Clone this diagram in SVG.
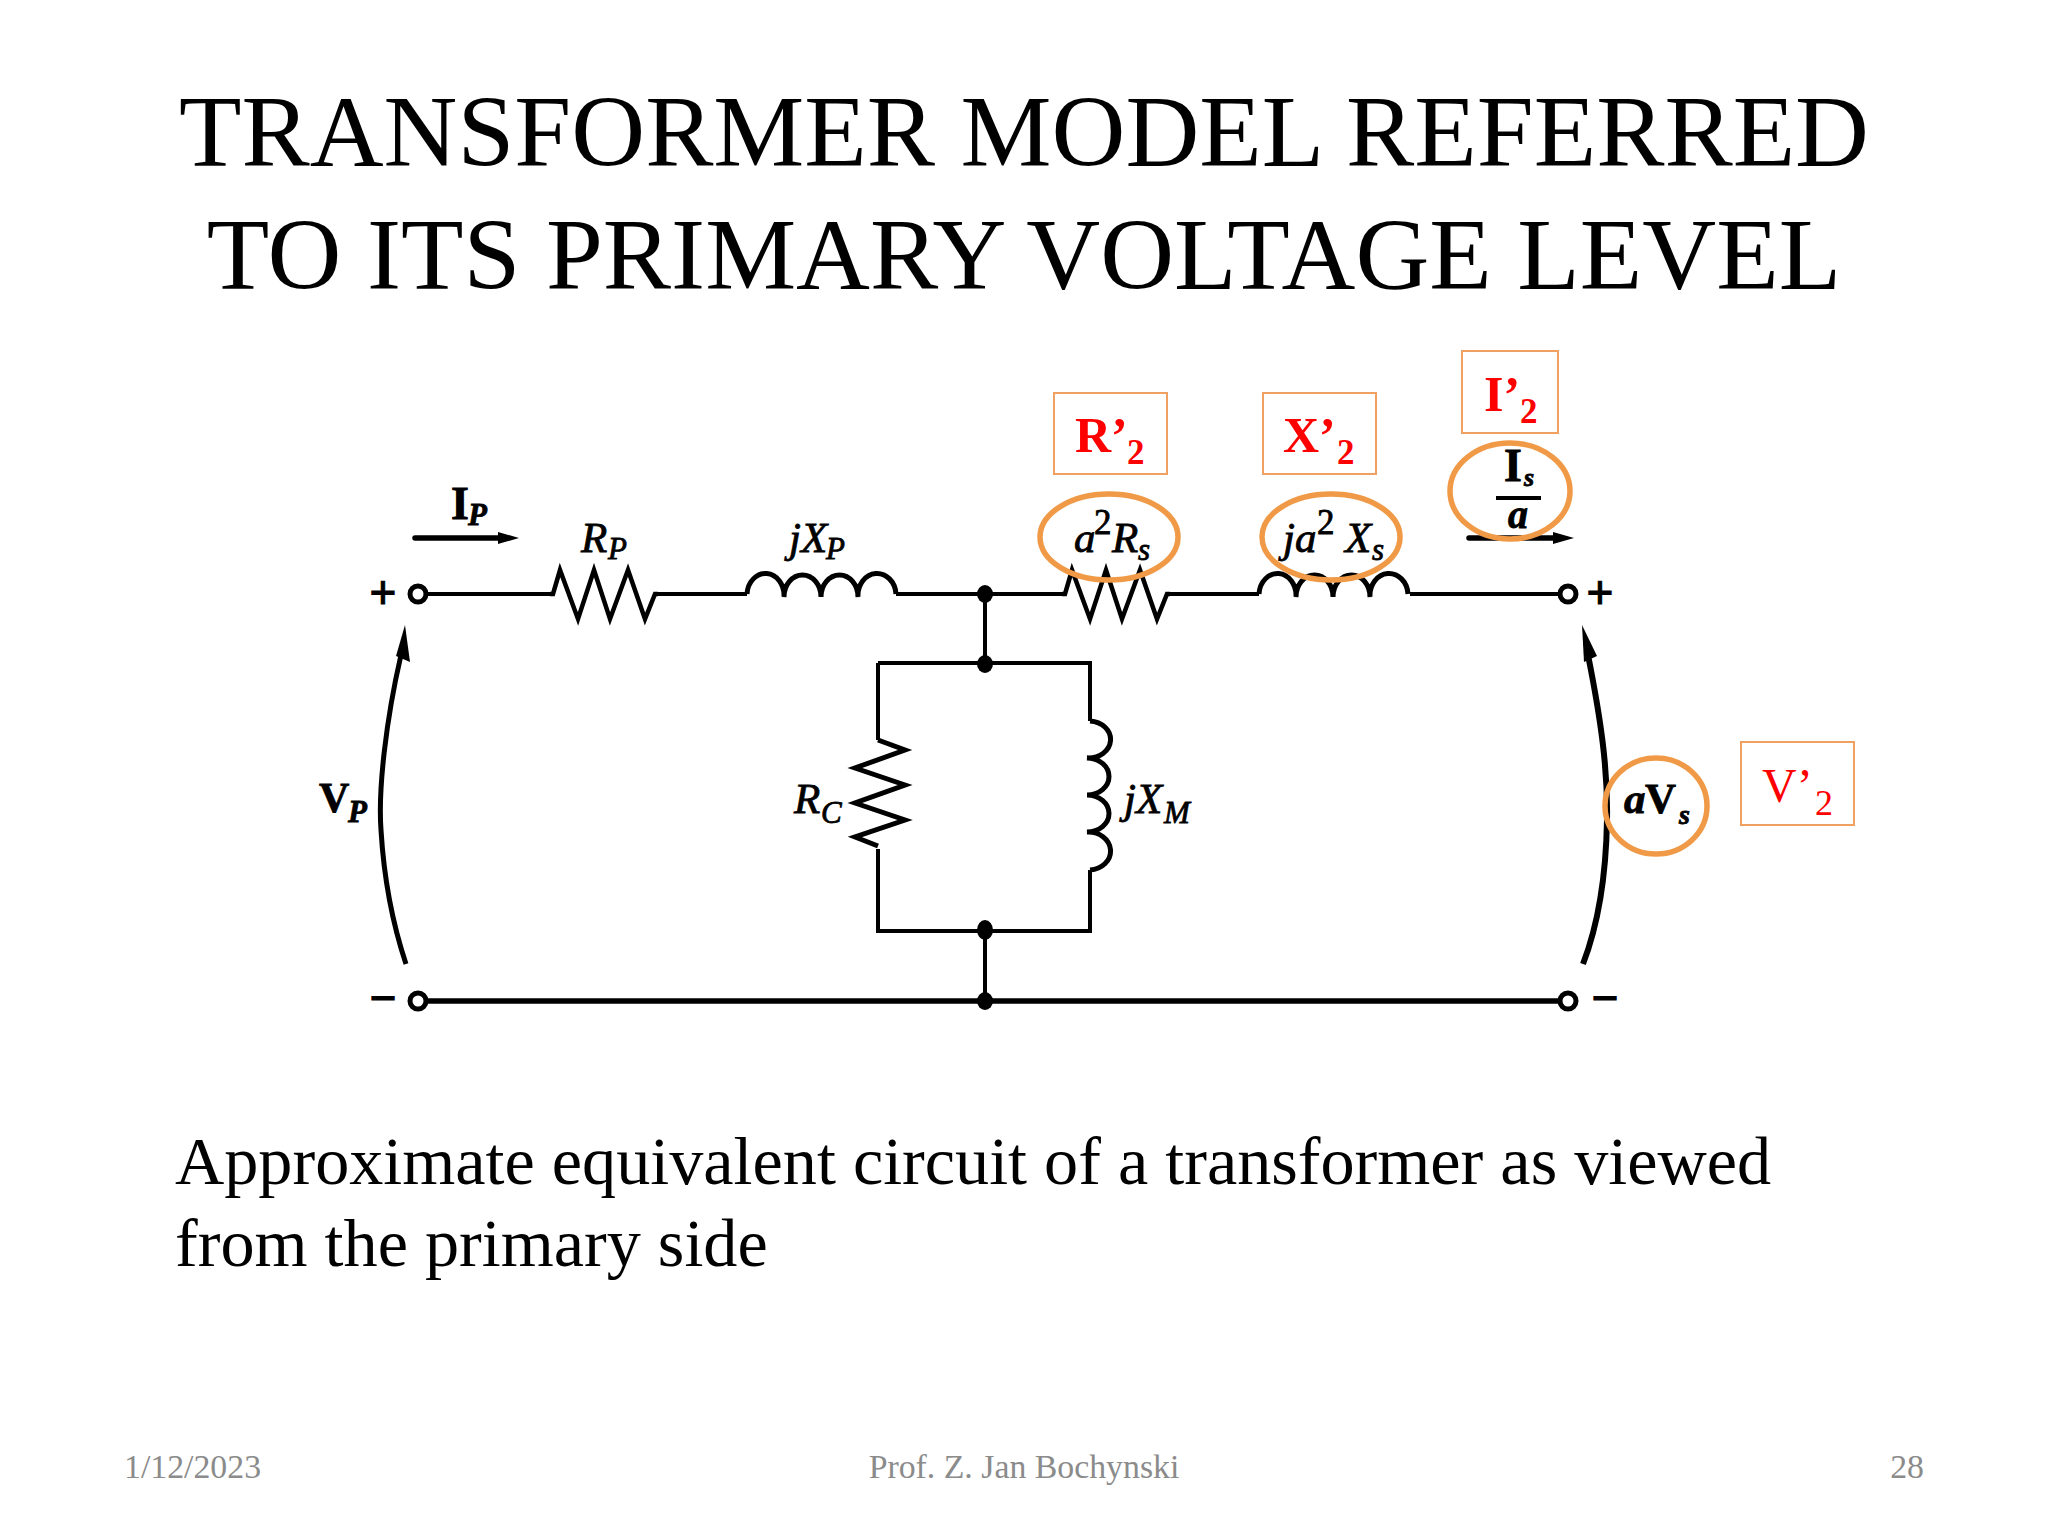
<svg xmlns="http://www.w3.org/2000/svg" xmlns:xlink="http://www.w3.org/1999/xlink" width="2048" height="1536" viewBox="0 0 2048 1536">
<style>
text{font-family:"Liberation Serif","Times New Roman",serif;fill:#000}
.title{font-size:102.3px;text-anchor:middle}
.body{font-size:68.2px}
.foot{font-size:33.8px;fill:#8b8b8b}
.w{fill:none;stroke:#000;stroke-width:4;stroke-linejoin:miter;stroke-linecap:butt}
.wb{fill:none;stroke:#000;stroke-width:5.5}
.dot{fill:#000}
.term{fill:#fff;stroke:#000;stroke-width:5}
.hi{fill:none;stroke:#f09a47;stroke-width:5.5}
.box{fill:#fff;stroke:#f0a060;stroke-width:2}
.lab{font-size:43px;font-style:italic;stroke:#000;stroke-width:.8}
.sub{font-size:31px;font-style:italic;stroke:#000;stroke-width:.8}
.bl{font-weight:bold;font-style:normal}
.rb{font-size:50px;font-weight:bold;fill:#f00}
.rbs{font-size:35px;font-weight:bold;fill:#f00}
.rr{font-size:48px;fill:#f00}
.rrs{font-size:36px;fill:#f00}
.sign{font-size:48px;font-weight:bold;text-anchor:middle;stroke:#000;stroke-width:1}
</style>
<defs>
<path id="res" class="w" d="M0 0H3L10 -24L28 25L44 -24L60 25L78 -24L95 25L105 0H108" style="stroke-width:4.5"/>
<path id="ind" class="w" style="stroke-width:5" d="M0 0A18.5 22 0 0 1 37 3A18.5 22 0 0 1 74 3A18.5 22 0 0 1 111 3A19 22 0 0 1 149 0"/>
</defs>
<g id="title">
<text class="title" x="1024" y="166">TRANSFORMER MODEL REFERRED</text>
<text class="title" x="1024" y="289">TO ITS PRIMARY VOLTAGE LEVEL</text>
</g>
<g id="connectors">
<path class="w" d="M426 594H552M657 594H747M896 594H1064M1166 594H1259M1410 594H1559"/>
<path class="w" d="M985 594V663M878 663H1090V721M1090 870V931H878V849M878 740V663M985 931V1000"/>
<path class="wb" d="M426 1001H1559"/>
<path d="M415 538H505" class="wb" stroke-linecap="round"/><path d="M498 532L519 538L498 544Z" class="dot"/>
<path d="M1469 538H1560" class="wb" stroke-linecap="round"/><path d="M1553 532L1574 538L1553 544Z" class="dot"/>
<path d="M401 655C386 720 378 790 381 830C384 880 393 925 406 964" fill="none" stroke="#000" stroke-width="5"/>
<path d="M405 625L410 662L396 656Z" class="dot"/>
<path d="M1588 655C1601 720 1608 770 1607 820C1606 880 1598 925 1583 964" fill="none" stroke="#000" stroke-width="6"/>
<path d="M1582 625L1597 656L1584 662Z" class="dot"/>
</g>
<g id="Rp"><use xlink:href="#res" href="#res" x="550" y="594"/><text class="lab" x="581" y="552">R</text><text class="sub" x="608" y="559">P</text></g>
<g id="jXp"><use xlink:href="#ind" href="#ind" x="747" y="594"/><text class="lab" x="789" y="552">jX</text><text class="sub" x="826" y="559">P</text></g>
<g id="Rs"><use xlink:href="#res" href="#res" x="1062" y="594"/><text class="lab" x="1074" y="552">a</text><text class="sub" x="1094" y="534" style="font-style:normal;font-size:35px">2</text><text class="lab" x="1112" y="552">R</text><text class="sub" x="1138" y="560">s</text></g>
<g id="jXs"><use xlink:href="#ind" href="#ind" x="1259" y="594"/><text class="lab" x="1283" y="552">ja</text><text class="sub" x="1317" y="534" style="font-style:normal;font-size:35px">2</text><text class="lab" x="1345" y="552">X</text><text class="sub" x="1372" y="560">s</text></g>
<g id="Rc"><path class="w" style="stroke-width:5" d="M878 740L905 750L855 768L905 785L855 803L905 820L855 837L878 846"/><text class="lab" x="794" y="813">R</text><text class="sub" x="821" y="823">C</text></g>
<g id="jXm"><use xlink:href="#ind" href="#ind" transform="translate(1090 721) rotate(90)"/><text class="lab" x="1124" y="813">jX</text><text class="sub" x="1164" y="823">M</text></g>
<g id="junctions">
<ellipse class="dot" cx="985" cy="594" rx="8" ry="9"/><ellipse class="dot" cx="985" cy="664" rx="8" ry="9"/><ellipse class="dot" cx="985" cy="930" rx="8" ry="10"/><ellipse class="dot" cx="985" cy="1001" rx="8" ry="9"/>
</g>
<g id="terminals">
<circle class="term" cx="418" cy="594" r="8"/><circle class="term" cx="418" cy="1001" r="8"/><circle class="term" cx="1568" cy="594" r="8"/><circle class="term" cx="1568" cy="1001" r="8"/>
<text class="sign" x="383" y="609">+</text><text class="sign" x="383" y="1014">−</text><text class="sign" x="1600" y="609">+</text><text class="sign" x="1605" y="1014">−</text>
</g>
<g id="Ip"><text class="lab bl" x="451" y="519" style="font-size:46px">I</text><text class="sub" x="468" y="525" style="font-weight:bold">P</text></g>
<g id="Vp"><text class="lab bl" x="319" y="812" style="font-size:42px">V</text><text class="sub" x="348" y="822" style="font-weight:bold">P</text></g>
<g id="Is-a"><text class="lab bl" x="1504" y="481" style="font-size:46px">I</text><text class="sub" x="1524" y="486" style="font-weight:bold;font-size:26px">s</text><path d="M1496 498H1541" class="w"/><text class="lab" x="1508" y="528" style="font-weight:bold;font-size:40px">a</text></g>
<g id="aVs"><text class="lab" x="1624" y="813" style="font-weight:bold">a</text><text class="lab bl" x="1645" y="813">V</text><text class="sub" x="1679" y="824" style="font-weight:bold;font-size:28px">s</text></g>
<g id="highlights">
<ellipse class="hi" cx="1109" cy="537" rx="69" ry="43"/>
<ellipse class="hi" cx="1331" cy="537" rx="69" ry="43"/>
<ellipse class="hi" cx="1510" cy="491" rx="60" ry="48"/>
<ellipse class="hi" cx="1656" cy="806" rx="51" ry="48"/>
</g>
<g id="box-R2"><rect class="box" x="1054" y="393" width="113" height="81"/><text class="rb" x="1075" y="452">R’</text><text class="rbs" x="1127" y="464">2</text></g>
<g id="box-X2"><rect class="box" x="1263" y="393" width="113" height="81"/><text class="rb" x="1283" y="452">X’</text><text class="rbs" x="1337" y="464">2</text></g>
<g id="box-I2"><rect class="box" x="1462" y="351" width="96" height="82"/><text class="rb" x="1484" y="411">I’</text><text class="rbs" x="1520" y="423">2</text></g>
<g id="box-V2"><rect class="box" x="1741" y="742" width="113" height="83"/><text class="rr" x="1762" y="802">V’</text><text class="rrs" x="1815" y="815">2</text></g>
<g id="caption">
<text class="body" x="175" y="1184">Approximate equivalent circuit of a transformer as viewed</text>
<text class="body" x="175" y="1266">from the primary side</text>
</g>
<g id="footer">
<text class="foot" x="124" y="1478">1/12/2023</text>
<text class="foot" x="1024" y="1478" text-anchor="middle">Prof. Z. Jan Bochynski</text>
<text class="foot" x="1924" y="1478" text-anchor="end">28</text>
</g>
</svg>
